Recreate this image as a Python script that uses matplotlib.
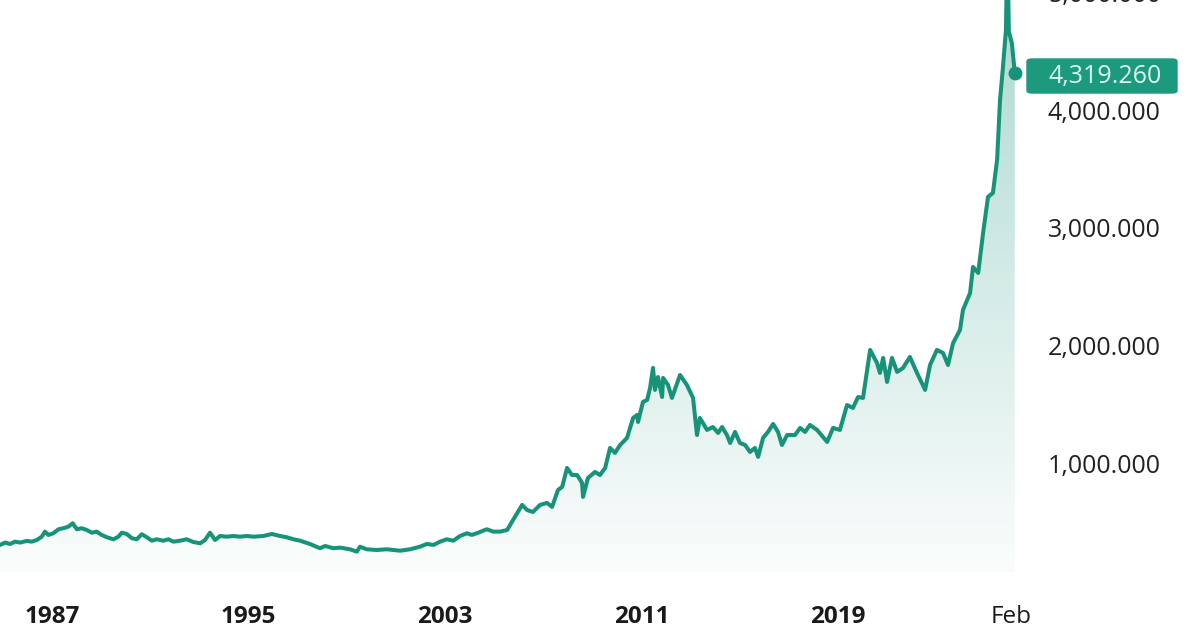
import numpy as np
import matplotlib.pyplot as plt
from matplotlib.patches import FancyBboxPatch

# gold price
years = [
    1984.88, 1985.09, 1985.29, 1985.49, 1985.70, 1985.97, 1986.17, 1986.38,
    1986.58, 1986.71, 1986.85, 1987.05, 1987.26, 1987.46, 1987.66, 1987.84,
    1988.01, 1988.21, 1988.41, 1988.62, 1988.82, 1989.02, 1989.23, 1989.50,
    1989.70, 1989.84, 1990.04, 1990.25, 1990.45, 1990.65, 1990.86, 1991.06,
    1991.26, 1991.53, 1991.74, 1991.94, 1992.21, 1992.48, 1992.75, 1993.03,
    1993.23, 1993.43, 1993.64, 1993.84, 1994.11, 1994.38, 1994.65, 1994.93,
    1995.20, 1995.60, 1995.95, 1996.28, 1996.56, 1996.83, 1997.10, 1997.50,
    1997.91, 1998.12, 1998.45, 1998.73, 1999.13, 1999.41, 1999.54, 1999.81,
    2000.22, 2000.63, 2001.17, 2001.58, 2001.98, 2002.26, 2002.53, 2002.80,
    2003.07, 2003.34, 2003.61, 2003.89, 2004.09, 2004.29, 2004.70, 2004.97,
    2005.24, 2005.53, 2005.77, 2006.14, 2006.34, 2006.58, 2006.87,
    2007.15, 2007.36, 2007.60, 2007.77, 2007.97, 2008.17, 2008.38, 2008.58,
    2008.62, 2008.82, 2009.11, 2009.31, 2009.52, 2009.72, 2009.92, 2010.13,
    2010.41, 2010.66, 2010.82, 2010.86, 2011.06, 2011.23, 2011.35, 2011.47,
    2011.55, 2011.67, 2011.84, 2011.88, 2012.08, 2012.24, 2012.57, 2012.85,
    2013.10, 2013.26, 2013.38, 2013.67, 2013.91, 2014.12, 2014.28, 2014.48,
    2014.61, 2014.81, 2015.01, 2015.22, 2015.42, 2015.62, 2015.75, 2015.95,
    2016.15, 2016.36, 2016.56, 2016.72, 2016.93, 2017.25, 2017.46, 2017.66,
    2017.86, 2018.15, 2018.56, 2018.80, 2019.08, 2019.37, 2019.61, 2019.82,
    2020.02, 2020.31, 2020.59, 2020.71, 2020.84, 2021.00, 2021.20, 2021.41,
    2021.65, 2021.93, 2022.22, 2022.55, 2022.75, 2023.03, 2023.28, 2023.48,
    2023.69, 2023.97, 2024.09, 2024.38, 2024.50, 2024.71, 2024.91, 2025.11,
    2025.31, 2025.48, 2025.60, 2025.72, 2025.84, 2025.90, 2025.96, 2026.08,
    2026.20,
]
prices = [
    306, 326, 314, 334, 326, 340, 334, 348,
    376, 419, 391, 405, 439, 448, 461, 490,
    439, 448, 433, 410, 419, 391, 371, 354,
    376, 410, 399, 363, 354, 397, 371, 342,
    354, 342, 354, 334, 342, 354, 331, 320,
    348, 410, 348, 382, 376, 382, 376, 382,
    376, 382, 399, 382, 371, 354, 342, 314,
    278, 297, 278, 283, 269, 249, 291, 269,
    263, 269, 257, 269, 291, 314, 306, 334,
    354, 342, 382, 405, 391, 405, 439, 419,
    419, 433, 518, 646, 603, 586, 646,
    663, 629, 773, 799, 960, 900, 900, 833,
    714, 875, 926, 900, 960, 1130, 1088, 1155,
    1215, 1385, 1410, 1351, 1521, 1538, 1640, 1810,
    1623, 1733, 1563, 1725, 1665, 1555, 1750, 1665,
    1555, 1240, 1385, 1283, 1308, 1257, 1308, 1240,
    1172, 1266, 1172, 1155, 1096, 1130, 1054, 1215,
    1266, 1334, 1266, 1155, 1240, 1240, 1300, 1266,
    1325, 1283, 1181, 1300, 1283, 1495, 1470, 1563,
    1555, 1963, 1852, 1767, 1895, 1691, 1895, 1776,
    1810, 1903, 1767, 1623, 1835, 1963, 1937, 1835,
    2022, 2133, 2302, 2447, 2668, 2617, 2957, 3263,
    3297, 3577, 4087, 4367, 4681, 5400, 4668, 4571,
    4319.26,
]

x_ticks = [1987, 1995, 2003, 2011, 2019, 2026.05]
x_labels = ['1987', '1995', '2003', '2011', '2019', 'Feb']
y_ticks = [1000, 2000, 3000, 4000, 5000]

teal = '#17937a'

plt.rcParams['font.family'] = ['Open Sans', 'DejaVu Sans']

fig = plt.figure(figsize=(12, 6.3), dpi=100)
ax = fig.add_axes([0, 58 / 630, 1016 / 1200, 592 / 630])
ax.set_xlim(1984.88, 2026.25)
ax.set_ylim(76, 5106)

x = np.array(years)
y = np.array(prices)

# gradient area under the line
poly = ax.fill_between(x, y, 0, color='none', lw=0)
grad = np.zeros((256, 1, 4))
grad[:, 0, :3] = [0.09, 0.58, 0.48]
grad[:, 0, 3] = np.linspace(0.02, 0.36, 256)
img = ax.imshow(grad, extent=[x[0], x[-1], 76, 5106], origin='lower',
                aspect='auto', zorder=1)
img.set_clip_path(poly.get_paths()[0], transform=ax.transData)

ax.plot(x, y, color=teal, lw=2.9, solid_joinstyle='round', zorder=3)
ax.plot(x[-1], y[-1], 'o', ms=9, color=teal, clip_on=False, zorder=4)

for s in ax.spines.values():
    s.set_visible(False)

ax.yaxis.tick_right()
ax.set_yticks(y_ticks)
ax.set_yticklabels([f'{v:,.3f}' for v in y_ticks])
ax.tick_params(axis='y', length=0, pad=23, labelsize=18, labelcolor='#222222')

ax.set_xticks(x_ticks)
ax.set_xticklabels(x_labels)
ax.tick_params(axis='x', length=0, pad=24, labelsize=17.5, labelcolor='#1a1a1a')
for lab in ax.get_xticklabels()[:-1]:
    lab.set_fontweight('bold')

# last value tag
fig.patches.append(FancyBboxPatch((1027 / 1200, (630 - 93) / 630), 150 / 1200, 34 / 630,
                                  boxstyle='round,pad=0,rounding_size=0.004',
                                  transform=fig.transFigure, color='#1c9a7e'))
fig.text(1105 / 1200, (630 - 76) / 630, f'{prices[-1]:,.3f}', ha='center', va='center',
         fontsize=18, color='#dcf7f0')

fig.savefig('out.png', dpi=100)
